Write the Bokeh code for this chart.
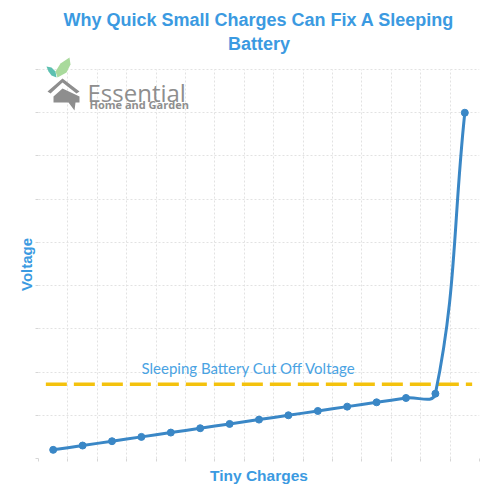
import numpy as np
from bokeh.plotting import figure
from bokeh.models import Title, Label, Range1d, FixedTicker
from bokeh.embed import file_html
from bokeh.resources import INLINE

# ---------------- data ----------------
charge = [0.5, 1.5, 2.5, 3.5, 4.5, 5.5, 6.5, 7.5, 8.5, 9.5, 10.5, 11.5, 12.5, 13.5, 14.5]
voltage = [0.2, 0.3, 0.4, 0.5, 0.6, 0.7, 0.8, 0.9, 1.0, 1.1, 1.2, 1.3, 1.4, 1.5, 8.0]
cutoff_voltage = 1.72
x_ticks = list(range(16))
y_ticks = list(range(10))
title_lines = ["Why Quick Small Charges Can Fix A Sleeping", "Battery"]
cutoff_label = "Sleeping Battery Cut Off Voltage"

# ---------------- layout ----------------
W, H = 500, 500
L, R, T, B = 38, 479, 69, 458       # grid box in pixels
FT = 55                              # frame top (room for the logo leaves)
X0, X1, Y0, YG = 0, 15, 0, 9
sx = (R - L) / (X1 - X0)
sy = (B - T) / (YG - Y0)
Y1 = YG + (T - FT) / sy


def dx(px):
    return X0 + (px - L) / sx


def dy(py):
    return Y0 + (B - py) / sy


BLUE_T = "#3b9ae1"
LINE = "#3a87c6"
YEL = "#f4c20d"
GRAY = "#8e8e8e"

p = figure(width=W, height=H, x_range=Range1d(X0, X1), y_range=Range1d(Y0, Y1),
           output_backend="svg", toolbar_location=None,
           min_border_left=L, min_border_right=W - R, min_border_top=FT,
           min_border_bottom=H - B, background_fill_color="white",
           border_fill_color="white")
p.outline_line_color = None

p.add_layout(Title(text=title_lines[1], align="center", text_font="Liberation Sans",
                   text_font_size="18px", text_font_style="bold", text_color=BLUE_T,
                   standoff=4, offset=0), "above")
p.add_layout(Title(text=title_lines[0], align="center", text_font="Liberation Sans",
                   text_font_size="18px", text_font_style="bold", text_color=BLUE_T,
                   standoff=0, offset=0), "above")

# axes
p.xaxis.ticker = FixedTicker(ticks=x_ticks)
p.yaxis.ticker = FixedTicker(ticks=y_ticks)
p.xaxis.major_label_overrides = {t: "" for t in x_ticks}
p.yaxis.major_label_overrides = {t: "" for t in y_ticks}
for ax in (p.xaxis, p.yaxis):
    ax.major_label_standoff = 0
    ax.major_tick_out = 3
    ax.major_tick_in = 0
    ax.minor_tick_line_color = None
    ax.axis_line_color = None
    ax.major_tick_line_color = "#d6d6d6"
    ax.axis_label_text_font = "Liberation Sans"
    ax.axis_label_text_font_size = "15.5px"
    ax.axis_label_text_font_style = "bold"
    ax.axis_label_text_color = BLUE_T
p.xaxis.axis_label = "Tiny Charges"
p.xaxis.axis_label_standoff = 5

# y axis title, centred on the grid box (frame extends above it for the logo)
p.add_layout(Title(text="Voltage", align="left", offset=B - (T + B) / 2 - 27,
                   text_font="Liberation Sans", text_font_size="15px",
                   text_font_style="bold", text_color=BLUE_T, standoff=1), "left")

p.grid.grid_line_color = "#e2e2e2"
p.grid.grid_line_dash = "2 2"
p.grid.grid_line_width = 1
p.xgrid.cross_bounds = (Y0, YG)
p.ygrid.cross_bounds = (X0, X1)

# ---------------- logo ----------------
teal_leaf = [(46, 66), (51, 67), (55, 71), (56, 77), (51, 75), (48, 71)]
green_leaf = [(69, 57), (70, 64), (66, 72), (57, 77), (55, 71), (60, 63)]
roof = [(47, 91), (62, 78), (79, 91), (76, 93), (62, 82), (50, 93)]
house_body = [(53, 96), (62, 88), (79, 96), (79, 102), (75, 102), (74, 110), (68, 102), (53, 102)]
shapes = [teal_leaf, green_leaf, roof, house_body]
p.patches([[dx(a) for a, b in s] for s in shapes], [[dy(b) for a, b in s] for s in shapes],
          fill_color=["#5cc0b0", "#a9da9c", GRAY, GRAY], line_color=None)
p.add_layout(Label(x=dx(87), y=dy(92), text="Essential", text_font="Open Sans",
                   text_font_size="24px", text_color=GRAY, text_baseline="alphabetic"))
p.add_layout(Label(x=dx(89), y=dy(103.5), text="Home and Garden", text_font="Open Sans",
                   text_font_size="11px", text_font_style="bold", text_color=GRAY,
                   text_baseline="alphabetic"))

# ---------------- cutoff line ----------------
p.segment(x0=[charge[0] - 0.25], x1=[charge[-1] + 0.25], y0=[cutoff_voltage], y1=[cutoff_voltage],
          line_color=YEL, line_width=3.5, line_dash="21 7")
p.add_layout(Label(x=dx(141), y=dy(367), text=cutoff_label, text_font="Lato",
                   text_font_size="15px", text_color="#4aa3e3", text_baseline="alphabetic"))

# ---------------- spline (Chart.js-style tension 0.4, in pixel space) ----------------
X = np.array(charge) * sx
Y = np.array(voltage) * sy
n = len(X)
t = 0.4
cpp_x, cpp_y, cpn_x, cpn_y = np.zeros(n), np.zeros(n), np.zeros(n), np.zeros(n)
for i in range(n):
    pi = i - 1 if i > 0 else i
    ni = i + 1 if i < n - 1 else i
    d01 = np.hypot(X[i] - X[pi], Y[i] - Y[pi])
    d12 = np.hypot(X[ni] - X[i], Y[ni] - Y[i])
    s01 = d01 / (d01 + d12) if d01 + d12 > 0 else 0
    s12 = d12 / (d01 + d12) if d01 + d12 > 0 else 0
    fa, fb = t * s01, t * s12
    cpp_x[i] = X[i] - fa * (X[ni] - X[pi])
    cpp_y[i] = Y[i] - fa * (Y[ni] - Y[pi])
    cpn_x[i] = X[i] + fb * (X[ni] - X[pi])
    cpn_y[i] = Y[i] + fb * (Y[ni] - Y[pi])

p.bezier(x0=X[:-1] / sx, y0=Y[:-1] / sy, x1=X[1:] / sx, y1=Y[1:] / sy,
         cx0=cpn_x[:-1] / sx, cy0=cpn_y[:-1] / sy, cx1=cpp_x[1:] / sx, cy1=cpp_y[1:] / sy,
         line_color=LINE, line_width=3)
p.scatter(charge, voltage, size=7, color=LINE)

open("out.html", "w").write(file_html(p, INLINE))
